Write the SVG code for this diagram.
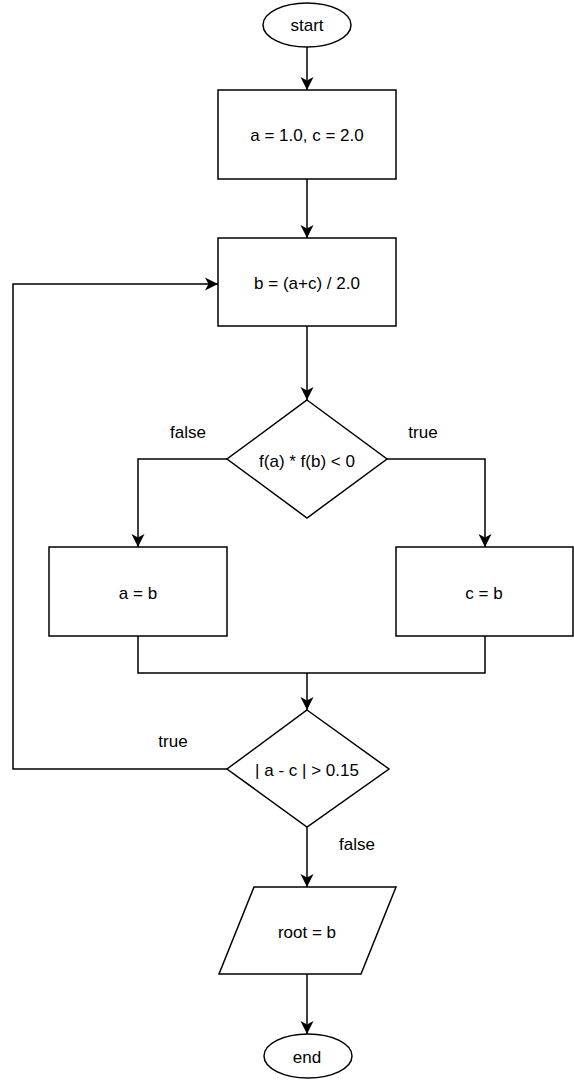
<svg xmlns="http://www.w3.org/2000/svg" width="574" height="1080" viewBox="0 0 574 1080">
<defs>
<style>
.s{fill:#fff;stroke:#000;stroke-width:1.5}
.t{font-family:"Liberation Sans",Arial,sans-serif;font-size:17px;fill:#000;text-anchor:middle;dominant-baseline:central}
.c{fill:none;stroke:#000;stroke-width:1.5}
</style>
<marker id="ar" markerUnits="userSpaceOnUse" markerWidth="14" markerHeight="14" refX="13" refY="6.5" orient="auto" viewBox="0 0 14 13">
<path d="M0,0 L13,6.5 L0,13 L3.5,6.5 Z" fill="#000"/>
</marker>
</defs>
<rect width="574" height="1080" fill="#fff"/>
<g id="connectors">
<path class="c" d="M307,47 V90" marker-end="url(#ar)"/>
<path class="c" d="M307,179 V238" marker-end="url(#ar)"/>
<path class="c" d="M307,326 V400" marker-end="url(#ar)"/>
<path class="c" d="M227,459 H138 V547" marker-end="url(#ar)"/>
<path class="c" d="M387,459 H485 V547" marker-end="url(#ar)"/>
<path class="c" d="M138,636 V673 H485 V636"/>
<path class="c" d="M307,673 V710" marker-end="url(#ar)"/>
<path class="c" d="M227,769 H13 V284 H218" marker-end="url(#ar)"/>
<path class="c" d="M307,827 V887" marker-end="url(#ar)"/>
<path class="c" d="M307,974 V1034" marker-end="url(#ar)"/>
<text class="t" x="188" y="432">false</text>
<text class="t" x="423" y="432">true</text>
<text class="t" x="173" y="741">true</text>
<text class="t" x="357" y="844">false</text>
</g>
<g id="start"><ellipse class="s" cx="307" cy="25" rx="44" ry="22"/><text class="t" x="307" y="25">start</text></g>
<g id="init"><rect class="s" x="218" y="90" width="178" height="89"/><text class="t" x="307" y="135">a = 1.0, c = 2.0</text></g>
<g id="mid"><rect class="s" x="218" y="238" width="178" height="88"/><text class="t" x="307" y="283">b = (a+c) / 2.0</text></g>
<g id="cond1"><polygon class="s" points="307,400 387,459 307,518 227,459"/><text class="t" x="307" y="461">f(a) * f(b) &lt; 0</text></g>
<g id="setA"><rect class="s" x="49" y="547" width="178" height="89"/><text class="t" x="138" y="593">a = b</text></g>
<g id="setC"><rect class="s" x="396" y="547" width="177" height="89"/><text class="t" x="484" y="593">c = b</text></g>
<g id="cond2"><polygon class="s" points="307,710 389,769 307,827 227,769"/><text class="t" x="307" y="770">| a - c | &gt; 0.15</text></g>
<g id="root"><polygon class="s" points="254,887 396,887 361,974 219,974"/><text class="t" x="307" y="932">root = b</text></g>
<g id="end"><ellipse class="s" cx="308" cy="1056" rx="44" ry="22"/><text class="t" x="307" y="1057">end</text></g>
</svg>
